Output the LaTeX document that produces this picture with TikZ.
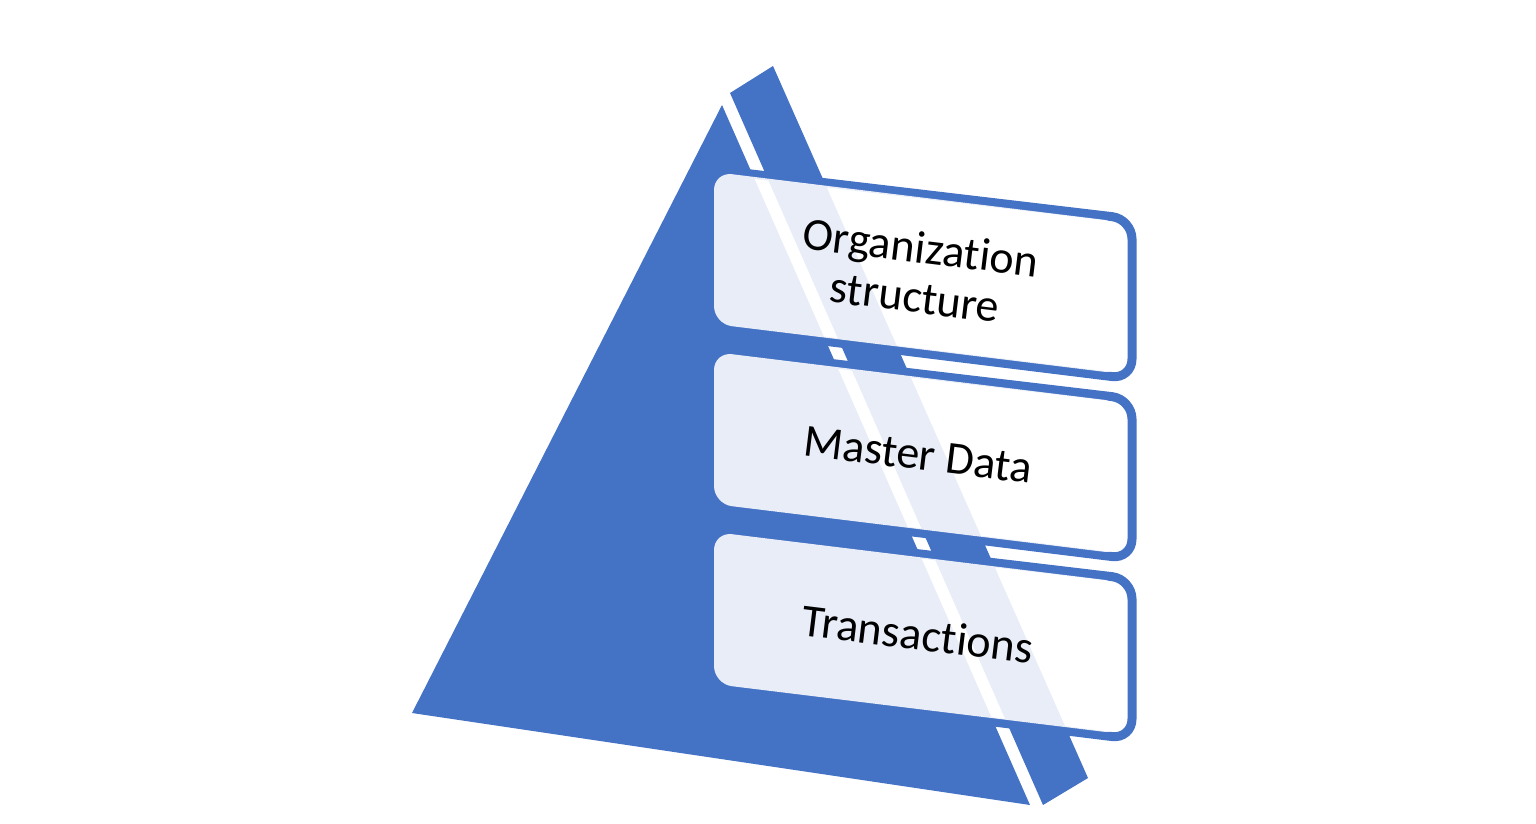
\documentclass[tikz,border=0pt]{standalone}
\usepackage{fontspec}
\setmainfont{Carlito}[Ligatures=NoCommon]
\definecolor{pblue}{HTML}{4472C4}
\begin{document}
\begin{tikzpicture}[x=1pt,y=-1pt,
  backface/.style={draw=pblue,line width=9pt,rounded corners=20pt},
  frontface/.style={fill=white,fill opacity=0.88,rounded corners=18pt},
  lbl/.style={font=\fontsize{46}{50}\selectfont,rotate=-7,align=center,text=black}]
\useasboundingbox (0,0) rectangle (1536,823);
% pyramid
\fill[pblue] (722,105) -- (412,713) -- (1030,805) -- cycle;
\fill[pblue] (730,93) -- (773,66) -- (1088,778) -- (1043,805) -- cycle;
% boxes
\foreach \dy in {0,180,360}{
  \path[backface] (726,171+\dy) -- (1132,219+\dy) -- (1132,379+\dy) -- (726,329+\dy) -- cycle;
  \path[frontface] (714,172+\dy) -- (1122,222+\dy) -- (1122,374+\dy) -- (714,324+\dy) -- cycle;
}
\node[lbl] (t1) at (918,272) {Organization\\structure};
\node[lbl] (t2) at (918,455) {Master Data};
\node[lbl] (t3) at (918,634) {Transactions};
\end{tikzpicture}
\end{document}
